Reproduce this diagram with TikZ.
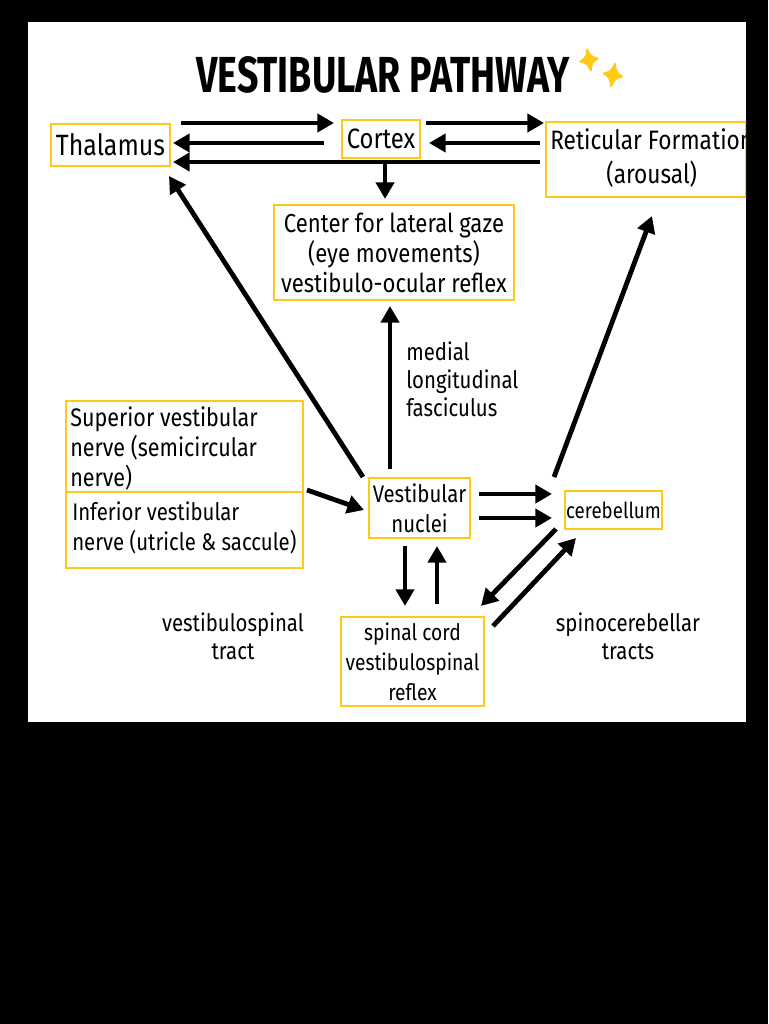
\documentclass[tikz,border=0pt]{standalone}
\usepackage{fontspec}
\setmainfont{Fira Sans}[FakeStretch=0.85]
\newfontfamily\titlefont{Fira Sans}[FakeStretch=0.74]
\usetikzlibrary{arrows.meta,calc}
\definecolor{yel}{HTML}{FFC916}
\begin{document}
\begin{tikzpicture}[x=0.75pt,y=-0.75pt,
  box/.style={draw=yel,line width=1.5pt,inner sep=0pt,align=center,
    font=\fontsize{18}{22.5}\selectfont},
  big/.style={font=\fontsize{21}{24}\selectfont},
  lbl/.style={inner sep=0pt,align=center,font=\fontsize{18}{21}\selectfont},
  arr/.style={line width=3.6pt,-{Triangle[length=12.5pt,width=13.5pt]}},
  sparkle/.pic={\fill[yel,rounded corners=1.5pt] (0,-13)--(3.5,-3.5)--(11,0)--(3.5,3.5)--(0,13)--(-3.5,3.5)--(-11,0)--(-3.5,-3.5)--cycle;}]
\useasboundingbox (0,0) rectangle (768,1024);
\fill[black] (0,0) rectangle (768,1024);
\fill[white] (28,22) rectangle (746,722);
\begin{scope}
\clip (28,22) rectangle (746,722);
\node[inner sep=0pt,font=\titlefont\bfseries\fontsize{38}{40}\selectfont] (title) at (383,75) {VESTIBULAR PATHWAY};
\pic[rotate=10] at (589,60) {sparkle};
\pic[rotate=-10,scale=1.05] at (613,75) {sparkle};

\node[box,font=\fontsize{22}{24}\selectfont,minimum width=119*0.75pt,minimum height=42*0.75pt] (thal) at (110.5,145) {Thalamus};
\node[box,big,minimum width=78*0.75pt,minimum height=38*0.75pt] (cortex) at (381,139) {Cortex};
\node[box,minimum width=200*0.75pt,minimum height=75*0.75pt] (rf) at (646,159.5) {};
\node[lbl,font=\fontsize{20}{24}\selectfont,anchor=north west,align=center] (rft) at (550,128) {Reticular Formation\\[2pt](arousal)};
\node[box,font=\fontsize{19.5}{22.5}\selectfont,minimum width=240*0.75pt,minimum height=95*0.75pt] (center) at (394,252.5) {Center for lateral gaze\\(eye movements)\\vestibulo-ocular reflex};
\node[box,minimum width=237*0.75pt,minimum height=91*0.75pt] (sup) at (184.5,446.5) {};
\node[lbl,anchor=north west,align=left,font=\fontsize{19}{22.5}\selectfont] (supt) at (70,406) {Superior vestibular\\nerve (semicircular\\nerve)};
\node[box,minimum width=237*0.75pt,minimum height=76*0.75pt] (inf) at (184.5,530) {};
\node[lbl,anchor=north west,align=left,font=\fontsize{18}{22.5}\selectfont] (inft) at (72,502) {Inferior vestibular\\nerve (utricle \& saccule)};
\node[box,minimum width=101*0.75pt,minimum height=60*0.75pt] (vn) at (419.5,508) {Vestibular\\nuclei};
\node[box,font=\fontsize{16.5}{20}\selectfont,minimum width=97*0.75pt,minimum height=38*0.75pt] (cereb) at (613.5,510) {cerebellum};
\node[box,font=\fontsize{17}{22.5}\selectfont,minimum width=143*0.75pt,minimum height=89*0.75pt] (spinal) at (412.5,661.5) {spinal cord\\vestibulospinal\\reflex};

\node[lbl,anchor=north west,align=left] (mlf) at (406,342) {medial\\longitudinal\\fasciculus};
\node[lbl] (vst) at (233,636) {vestibulospinal\\tract};
\node[lbl] (sct) at (628,636) {spinocerebellar\\tracts};

\draw[arr] ($(thal.north east)+(10,0)$) -- ($(cortex.north west)+(-7,4)$);
\draw[arr] ($(cortex.west)+(-17,4)$) -- ($(thal.east)+(2,-2)$);
\draw[arr] ($(cortex.north east)+(5,4)$) -- ($(rf.north west)+(-1,2)$);
\draw[arr] ($(rf.west)+(-5,-16.5)$) -- ($(cortex.east)+(8,4)$);
\draw[arr] ($(rf.west)+(-5,2.5)$) -- ($(thal.east)+(2,17)$);
\draw[arr] ($(cortex.south)+(4,2)$) -- ($(center.north)+(-9,-5)$);
\draw[arr] ($(vn.north)+(-29.5,-8)$) -- ($(center.south)+(-4,5)$);
\draw[arr] ($(vn.north west)+(-5,0)$) -- ($(thal.south east)+(-2,9)$);
\draw[arr] ($(cereb.north west)+(-10,-13)$) -- ($(rf.south)+(6,18)$);
\draw[arr] ($(sup.south east)+(3,-3)$) -- ($(vn.west)+(-4,2)$);
\draw[arr] ($(vn.east)+(8,-14)$) -- ($(cereb.west)+(-12,-16)$);
\draw[arr] ($(vn.east)+(8,10)$) -- ($(cereb.west)+(-12,8)$);
\draw[arr] ($(vn.south)+(-14.5,7)$) -- ($(spinal.north)+(-7.5,-10)$);
\draw[arr] ($(spinal.north)+(24.5,-12)$) -- ($(vn.south)+(17.5,7)$);
\draw[arr] ($(cereb.south west)+(-8,-1)$) -- ($(spinal.north east)+(-4,-10)$);
\draw[arr] ($(spinal.north east)+(8,10)$) -- ($(cereb.south west)+(12,8)$);
\end{scope}
\end{tikzpicture}
\end{document}
